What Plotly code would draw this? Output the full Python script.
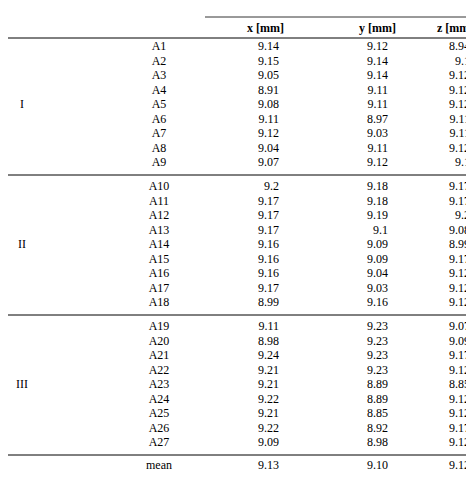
import plotly.graph_objects as go

specimens = [f"A{i}" for i in range(1, 28)]
x_mm = [9.14,9.15,9.05,8.91,9.08,9.11,9.12,9.04,9.07,
        9.2,9.17,9.17,9.17,9.16,9.16,9.16,9.17,8.99,
        9.11,8.98,9.24,9.21,9.21,9.22,9.21,9.22,9.09]
y_mm = [9.12,9.14,9.14,9.11,9.11,8.97,9.03,9.11,9.12,
        9.18,9.18,9.19,9.1,9.09,9.09,9.04,9.03,9.16,
        9.23,9.23,9.23,9.23,8.89,8.89,8.85,8.92,8.98]
z_mm = [8.94,9.1,9.12,9.12,9.12,9.11,9.11,9.12,9.1,
        9.17,9.17,9.2,9.08,8.99,9.17,9.12,9.12,9.12,
        9.07,9.09,9.17,9.12,8.85,9.12,9.12,9.17,9.12]
groups = ["I", "II", "III"]
summary_labels = ["mean", "std. dev."]
summary_x = ["9.13", "±0.08"]
summary_y = ["9.10", "±0.09"]
summary_z = ["9.12", "±0.09"]

PAD = 8
W, H = 474 - 2 * PAD, 481 - 2 * PAD
FONT = "Liberation Serif"
ROW = 14.5
TOP = 47
GAP = 9.5

def row_y(i):
    return TOP + ROW * i + GAP * (i // 9)

def fmt(v):
    return f"{v:g}"

fig = go.Figure()
rows_y = [row_y(i) for i in range(27)]
sum_y = [row_y(26) + 23, row_y(26) + 37]

col_spec, col_x, col_yc, col_z = 159, 279, 388, 470

fig.add_trace(go.Scatter(x=[col_spec]*29, y=rows_y + sum_y, mode="text",
                         text=specimens + summary_labels, textposition="middle center",
                         textfont=dict(family=FONT, size=12, color="black")))
for cx, vals, sv in [(col_x, x_mm, summary_x), (col_yc, y_mm, summary_y), (col_z, z_mm, summary_z)]:
    fig.add_trace(go.Scatter(x=[cx]*29, y=rows_y + sum_y, mode="text",
                             text=[fmt(v) for v in vals] + sv, textposition="middle left",
                             textfont=dict(family=FONT, size=12, color="black")))

group_y = [(row_y(g*9) + row_y(g*9+8)) / 2 for g in range(3)]
fig.add_trace(go.Scatter(x=[22]*3, y=group_y, mode="text", text=groups,
                         textfont=dict(family=FONT, size=12, color="black")))

hdr = dict(family=FONT, size=12, color="black")
def ann(x, y, t):
    fig.add_annotation(x=x, y=y, text=f"<b>{t}</b>", showarrow=False, font=hdr,
                       xref="x", yref="y", xanchor="center", yanchor="middle")
ann(20, 7, "Print Job")
ann(159, 7, "Specimen")
ann(345, 6, "Specimen Dimension")
ann(265, 28, "x [mm]")
ann(377, 28, "y [mm]")
ann(455, 28, "z [mm]")

def hline(y, x0=0, x1=474, w=1):
    fig.add_shape(type="line", x0=x0, x1=x1, y0=y, y1=y, xref="x", yref="y",
                  line=dict(color="black", width=w))
hline(17, 205, 474, 0.8)
hline(38)
for g in range(1, 3):
    hline(row_y(g*9) - (ROW + GAP) / 2)
hline(row_y(26) + 12)

fig.update_layout(width=W, height=H, margin=dict(l=0, r=0, t=0, b=0),
                  plot_bgcolor="white", paper_bgcolor="white", showlegend=False,
                  xaxis=dict(range=[PAD, PAD + W], visible=False, fixedrange=True),
                  yaxis=dict(range=[PAD + H, PAD], visible=False, fixedrange=True))
fig.write_html("out.html")
